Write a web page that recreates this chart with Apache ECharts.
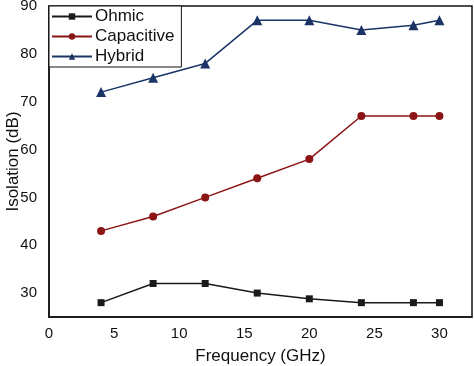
<!DOCTYPE html>
<html>
<head>
<meta charset="utf-8">
<script src="https://cdn.jsdelivr.net/npm/echarts@6/dist/echarts.min.js"></script>
<style>html,body{margin:0;padding:0;background:#fff}#c{width:474px;height:366px}</style>
</head>
<body>
<div id="c"></div>
<script>
const freq = [4, 8, 12, 16, 20, 24, 28, 30];
const ohmic = [28, 32, 32, 30, 28.8, 28, 28, 28];
const capacitive = [43, 46, 50, 54, 58, 67, 67, 67];
const hybrid = [72, 75, 78, 87, 87, 85, 86, 87];
const seriesNames = ['Ohmic', 'Capacitive', 'Hybrid'];
const xTicks = [0, 5, 10, 15, 20, 25, 30];
const yTicks = [30, 40, 50, 60, 70, 80, 90];

const pair = arr => freq.map((f, i) => [f, arr[i]]);
const font = 'Liberation Sans, Arial, sans-serif';
const chart = echarts.init(document.getElementById('c'));
chart.setOption({
  animation: false,
  backgroundColor: '#fff',
  grid: { left: 49, right: 2, top: 6, bottom: 49, containLabel: false, outerBoundsMode: 'none',
    show: true, borderColor: '#111', borderWidth: 1.5, backgroundColor: 'transparent' },
  legend: {
    orient: 'vertical', left: 49, top: 6, data: seriesNames,
    itemWidth: 40, itemHeight: 8, itemGap: 3,
    padding: [2, 7, 2, 2],
    borderColor: '#111', borderWidth: 1, backgroundColor: '#fff',
    textStyle: { fontFamily: font, fontSize: 17, color: '#111', padding: [0, 0, 0, -2] }
  },
  xAxis: {
    type: 'value', min: 0, max: 32.5, interval: 5,
    name: 'Frequency (GHz)', nameLocation: 'middle', nameGap: 31, nameMoveOverlap: false,
    nameTextStyle: { fontFamily: font, fontSize: 17, color: '#111' },
    axisLine: { show: true, lineStyle: { color: '#111', width: 1.5 } },
    axisTick: { show: false }, splitLine: { show: false },
    axisLabel: { fontFamily: font, fontSize: 15, color: '#111', margin: 9,
      formatter: v => xTicks.includes(v) ? String(v) : '' , showMaxLabel: false }
  },
  yAxis: {
    type: 'value', min: 25, max: 90, interval: 5,
    name: 'Isolation (dB)', nameLocation: 'middle', nameGap: 27, nameMoveOverlap: false,
    nameTextStyle: { fontFamily: font, fontSize: 17, color: '#111' },
    axisLine: { show: true, lineStyle: { color: '#111', width: 1.5 } },
    axisTick: { show: false }, splitLine: { show: false },
    axisLabel: { fontFamily: font, fontSize: 15, color: '#111', margin: 12,
      formatter: v => yTicks.includes(v) ? String(v) : '' }
  },
  series: [
    { name: 'Ohmic', type: 'line', data: pair(ohmic), symbol: 'rect', symbolSize: 7,
      itemStyle: { color: '#1a1a1a' }, lineStyle: { color: '#1a1a1a', width: 1.5 } },
    { name: 'Capacitive', type: 'line', data: pair(capacitive), symbol: 'circle', symbolSize: 8,
      itemStyle: { color: '#8b1414' }, lineStyle: { color: '#8b1414', width: 1.5 } },
    { name: 'Hybrid', type: 'line', data: pair(hybrid), symbol: 'triangle', symbolSize: 10,
      itemStyle: { color: '#1b3466' }, lineStyle: { color: '#1b3466', width: 1.5 } }
  ]
});
</script>
</body>
</html>
